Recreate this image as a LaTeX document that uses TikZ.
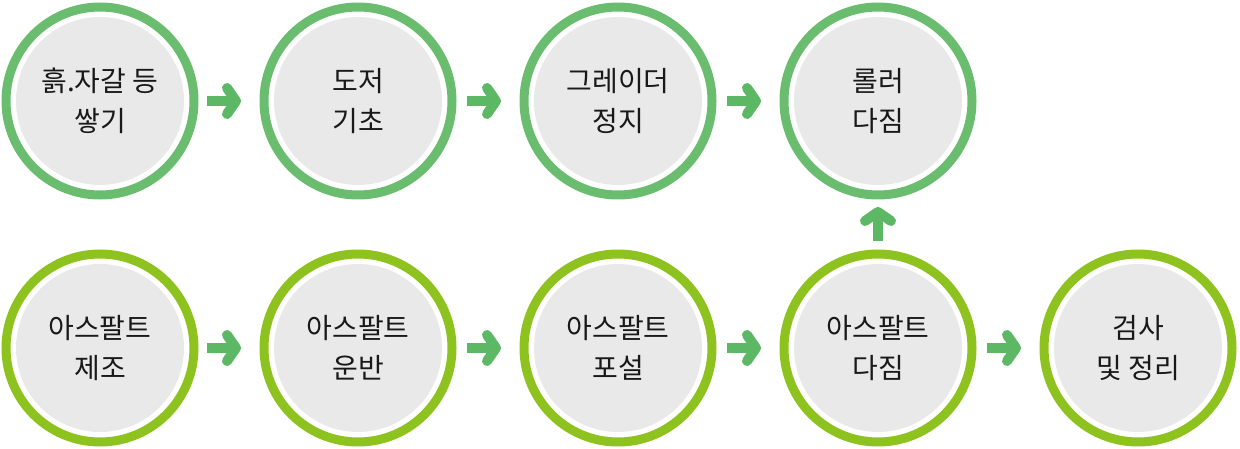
\documentclass[tikz,border=0pt]{standalone}
\usepackage{fontspec}
\setmainfont{Noto Sans CJK KR}
\definecolor{ringA}{HTML}{6ABD6E}
\definecolor{ringB}{HTML}{8DC21F}
\definecolor{arr}{HTML}{5DB865}
\definecolor{fillg}{HTML}{E8E9E8}
\tikzset{
  stepc/.style={circle, draw=#1, line width=9pt, minimum size=188pt, inner sep=0pt,
    path picture={\fill[fillg] (path picture bounding box.center) circle (84pt);},
    font=\fontsize{28pt}{40pt}\selectfont, align=center, text=black!90},
  arrline/.style={arr, line width=10pt, line cap=round, line join=round}
}
\newcommand{\rarrow}[2]{%
  \fill[arr] (#1-17,#2-5) rectangle (#1+8,#2+5);
  \draw[arrline] (#1+3,#2+13) -- (#1+12,#2) -- (#1+3,#2-13);}
\newcommand{\darrow}[2]{%
  \fill[arr] (#1-5,#2+17) rectangle (#1+5,#2-8);
  \draw[arrline] (#1-13,#2-3) -- (#1,#2-12) -- (#1+13,#2-3);}
\begin{document}
\begin{tikzpicture}[x=1pt,y=-1pt]
\useasboundingbox (0,0) rectangle (1240,449);
\node[stepc=ringA] (a) at (100,101) {흙.자갈 등\\쌓기};
\node[stepc=ringA] (b) at (358,101) {도저\\기초};
\node[stepc=ringA] (c) at (618,101) {그레이더\\정지};
\node[stepc=ringA] (d) at (878,101) {롤러\\다짐};
\node[stepc=ringB] (e) at (100,348) {아스팔트\\제조};
\node[stepc=ringB] (f) at (358,348) {아스팔트\\운반};
\node[stepc=ringB] (g) at (618,348) {아스팔트\\포설};
\node[stepc=ringB] (h) at (878,348) {아스팔트\\다짐};
\node[stepc=ringB] (i) at (1138,348) {검사\\및 정리};
\rarrow{224}{101}\rarrow{484}{101}\rarrow{744}{101}
\rarrow{224}{348}\rarrow{484}{348}\rarrow{744}{348}\rarrow{1004}{348}
\darrow{878}{224}
\end{tikzpicture}
\end{document}
